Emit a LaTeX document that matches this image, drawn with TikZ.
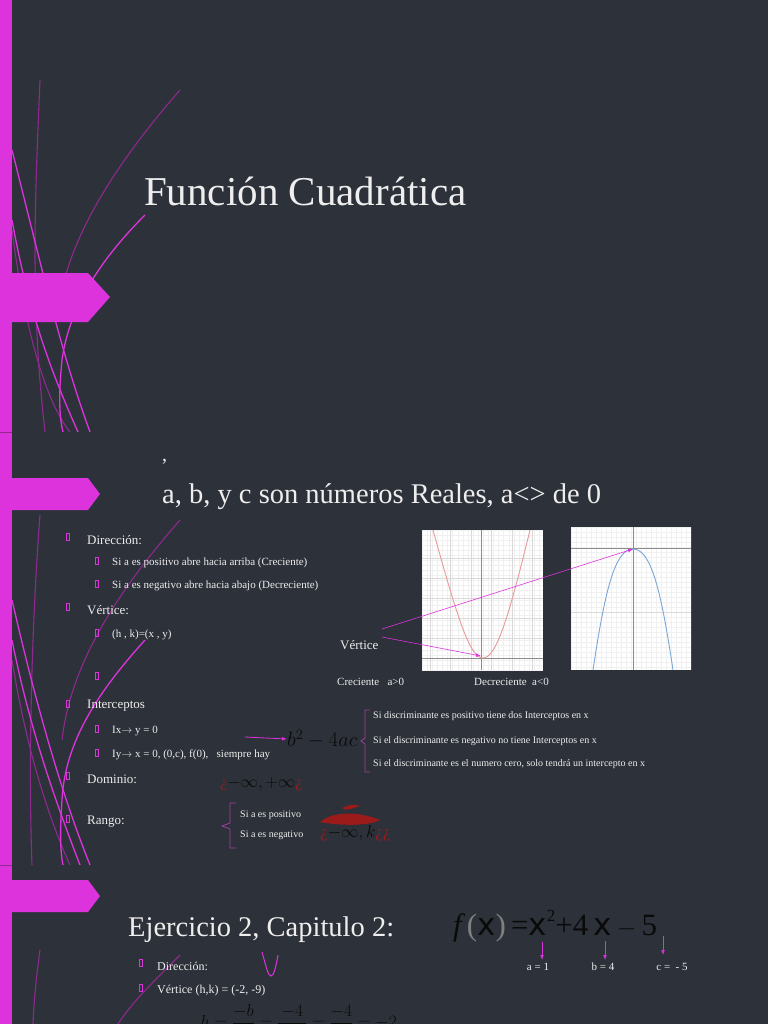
\documentclass[tikz,border=0pt]{standalone}
\usepackage{fontspec}
\setmainfont{Liberation Serif}
\newfontfamily\mathsans{DejaVu Sans}
\usepackage{amsmath}
\usetikzlibrary{arrows.meta}
\definecolor{bg}{HTML}{2D3139}
\definecolor{mag}{HTML}{DD33DD}
\definecolor{dmag}{HTML}{8E2A8E}
\definecolor{txt}{HTML}{EEEEEE}
\definecolor{dred}{HTML}{9B1B1B}
\definecolor{ink}{HTML}{0A0A0A}
\definecolor{brk}{HTML}{A040A0}
\definecolor{pinkc}{HTML}{E89A9A}
\definecolor{bluec}{HTML}{7BA7D6}
\tikzset{
  every node/.style={text=txt,inner sep=0pt},
  lbl/.style={anchor=west,font=\fontsize{13}{15}\selectfont},
  sublbl/.style={anchor=west,font=\fontsize{11}{13}\selectfont},
  tiny/.style={anchor=west,font=\fontsize{10}{12}\selectfont},
  ttl/.style={anchor=west,font=\fontsize{28.5}{30}\selectfont},
  bul/.style={draw=mag,line width=0.6pt,minimum width=3pt,minimum height=7pt},
  deco/.style={draw=mag,line width=1.3pt},
  decod/.style={draw=dmag,line width=1.1pt},
  arr/.style={draw=mag,line width=0.8pt,-{Latex[length=5pt]}},
}
\begin{document}
\begin{tikzpicture}[x=1pt,y=-1pt]
\useasboundingbox (0,0) rectangle (768,1024);
\fill[bg] (0,0) rectangle (768,1024);
% slide 1 decorations
\begin{scope}
\clip (0,0) rectangle (768,432);
\draw[decod] (40,80) .. controls (35,200) and (30,300) .. (45,432);
\draw[deco] (12,150) .. controls (40,260) and (60,350) .. (90,432);
\draw[deco] (12,220) .. controls (30,320) and (55,380) .. (78,432);
\draw[decod] (12,230) .. controls (25,330) and (45,400) .. (70,432);
\draw[decod] (180,90) .. controls (110,170) and (70,240) .. (60,300);
\draw[deco] (145,215) .. controls (110,250) and (70,300) .. (62,360) .. controls (58,400) and (60,420) .. (63,432);
\end{scope}
% slide 2 decorations
\begin{scope}
\clip (0,433) rectangle (768,865);
\draw[decod] (40,515) .. controls (32,620) and (28,760) .. (32,865);
\draw[deco] (12,600) .. controls (35,700) and (60,790) .. (90,865);
\draw[deco] (12,640) .. controls (30,730) and (55,800) .. (80,865);
\draw[decod] (12,660) .. controls (25,740) and (45,810) .. (70,865);
\draw[decod] (180,520) .. controls (110,600) and (70,670) .. (62,740);
\draw[deco] (145,640) .. controls (100,690) and (65,740) .. (62,800) .. controls (60,830) and (60,850) .. (63,865);
\end{scope}
% slide 3 decorations
\begin{scope}
\clip (0,866) rectangle (768,1024);
\draw[decod] (40,950) .. controls (36,980) and (34,1000) .. (33,1024);
\draw[decod] (180,955) .. controls (150,985) and (130,1005) .. (118,1024);
\end{scope}
% stripe and tabs
\fill[mag] (0,0) rectangle (12,1024);
\fill[mag] (0,273) -- (88,273) -- (110,297) -- (88,322) -- (0,322) -- cycle;
\fill[mag] (0,478) -- (88,478) -- (100,494) -- (88,510) -- (0,510) -- cycle;
\fill[mag] (0,880) -- (88,880) -- (100,896) -- (88,912) -- (0,912) -- cycle;
\draw[dmag,line width=0.5pt] (0,432) -- (12,432);
\draw[dmag,line width=0.5pt] (0,865) -- (12,865);
% slide 1 title
\node[ttl,font=\fontsize{41}{44}\selectfont] (t1) at (144,191) {Función Cuadrática};
% slide 2
\node[anchor=west,font=\fontsize{20}{20}\selectfont] (comma) at (161,466) {’};
\node[ttl] (t2) at (162,497) {a, b, y c son números Reales, a<> de 0};
\node[bul] (b1) at (68,537) {}; \node[lbl] (l1) at (87,540) {Dirección:};
\node[bul] (b2) at (97,561) {}; \node[sublbl] (l2) at (112,563) {Si a es positivo abre hacia arriba (Creciente)};
\node[bul] (b3) at (97,584) {}; \node[sublbl] (l3) at (112,586) {Si a es negativo abre hacia abajo (Decreciente)};
\node[bul] (b4) at (68,607) {}; \node[lbl] (l4) at (87,610) {Vértice:};
\node[bul] (b5) at (97,633) {}; \node[sublbl] (l5) at (112,635) {(h , k)=(x , y)};
\node[bul] (b6) at (97,676) {};
\node[bul] (b7) at (68,704) {}; \node[lbl] (l7) at (87,706) {Interceptos};
\node[bul] (b8) at (97,729) {}; \node[sublbl] (l8) at (112,731) {Ix$\rightarrow$ y = 0};
\node[bul] (b9) at (97,753) {}; \node[sublbl] (l9) at (112,755) {Iy$\rightarrow$ x = 0, (0,c), f(0), \ \ siempre hay};
\node[bul] (b10) at (68,776) {}; \node[lbl] (l10) at (87,779) {Dominio:};
\node[bul] (b11) at (68,819) {}; \node[lbl] (l11) at (87,822) {Rango:};
% graphs
\begin{scope}
\fill[white] (422,530) rectangle (543,670);
\clip (422,530) rectangle (543,670);
\foreach \i in {0,...,24} \draw[black!6,line width=0.3pt] (422+\i*5.1,530) -- (422+\i*5.1,670);
\foreach \i in {0,...,28} \draw[black!6,line width=0.3pt] (422,530+\i*5) -- (543,530+\i*5);
\foreach \i in {0,...,5} \draw[black!15,line width=0.4pt] (430+\i*20.5,530) -- (430+\i*20.5,670);
\foreach \i in {0,...,5} \draw[black!15,line width=0.4pt] (422,558+\i*20) -- (543,558+\i*20);
\draw[black!45,line width=0.6pt] (481,530) -- (481,670);
\draw[black!45,line width=0.6pt] (422,658) -- (543,658);
\draw[pinkc,line width=0.9pt] (433,530) .. controls (458,620) and (470,658) .. (483,658) .. controls (496,658) and (508,620) .. (530,530);
\end{scope}
\begin{scope}
\fill[white] (571,527) rectangle (691,670);
\clip (571,527) rectangle (691,670);
\foreach \i in {0,...,24} \draw[black!6,line width=0.3pt] (571+\i*5,527) -- (571+\i*5,670);
\foreach \i in {0,...,29} \draw[black!6,line width=0.3pt] (571,527+\i*5) -- (691,527+\i*5);
\draw[black!15,line width=0.4pt] (571,612) -- (691,612);
\draw[black!45,line width=0.6pt] (633,527) -- (633,670);
\draw[black!45,line width=0.6pt] (571,548) -- (691,548);
\draw[bluec,line width=0.9pt] (593,670) .. controls (605,590) and (615,549) .. (633,549) .. controls (651,549) and (661,590) .. (673,670);
\end{scope}
\coordinate (vsrc1) at (382,629);
\coordinate (vsrc2) at (382,637);
\coordinate (vtop) at (633,549);
\coordinate (vbot) at (481,656);
\draw[arr,line width=0.6pt] (vsrc1) -- (vtop);
\draw[arr,line width=0.6pt] (vsrc2) -- (vbot);
\node[lbl] (vert) at (340,645) {Vértice};
\node[sublbl] (cre) at (337,682) {Creciente \ \ a>0};
\node[sublbl] (dec) at (474,682) {Decreciente \ a<0};
% discriminant
\coordinate (da) at (245,737);
\node[anchor=west,text=ink,font=\fontsize{21}{21}\selectfont] (disc) at (287,739) {$b^2-4ac$};
\draw[arr] (da) -- (disc.west);
\draw[brk,line width=0.8pt] (370,710) -- (365,710) -- (365,738) -- (361,741) -- (365,744) -- (365,772) -- (370,772);
\node[tiny] (d1) at (373,716) {Si discriminante es positivo tiene dos Interceptos en x};
\node[tiny] (d2) at (373,741) {Si el discriminante es negativo no tiene Interceptos en x};
\node[tiny] (d3) at (373,764) {Si el discriminante es el numero cero, solo tendrá un intercepto en x};
% dominio
\node[anchor=west,font=\fontsize{16}{16}\selectfont] (dom) at (220,784) {\textcolor{dred}{¿}\textcolor{ink}{$-\infty,+\infty$}\textcolor{dred}{¿}};
% rango
\draw[brk,line width=0.8pt] (236,803) -- (230,803) -- (230,823) -- (222,826) -- (230,829) -- (230,848) -- (236,848);
\node[tiny] (r1) at (240,815) {Si a es positivo};
\node[tiny] (r2) at (240,835) {Si a es negativo};
\fill[dred] (320,822) .. controls (335,810) and (360,812) .. (380,820) .. controls (370,826) and (340,826) .. (320,822) -- cycle;
\fill[dred] (342,808) .. controls (350,804) and (356,804) .. (360,806) .. controls (352,808) and (346,812) .. (342,808) -- cycle;
\node[anchor=west,font=\fontsize{17}{17}\selectfont] (rng) at (320,833) {\textcolor{dred}{¿}\textcolor{ink}{$-\infty,k$}\textcolor{dred}{¿¿}};
% slide 3
\node[ttl] (t3) at (128,930) {Ejercicio 2, Capitulo 2:};
\node[anchor=base west,text=ink,font=\fontsize{31}{31}\selectfont] (fx) at (453,935) {{\itshape f}\,{\color{black!50}(}{\mathsans x}{\color{black!50})}\,={\mathsans x}\raisebox{0.45em}{\fontsize{17}{17}\selectfont 2}+4\,{\mathsans x}\,$-$\,5};
\node[sublbl,anchor=center] (ea) at (538,967) {a = 1};
\node[sublbl,anchor=center] (eb) at (603,967) {b = 4};
\node[sublbl,anchor=center] (ec) at (672,967) {c = \ - 5};
\coordinate (pa) at (542,942);
\coordinate (pb) at (605,941);
\coordinate (pc) at (663,936);
\coordinate (qa) at (542,960);
\coordinate (qb) at (605,960);
\coordinate (qc) at (663,955);
\draw[arr,line width=0.6pt] (pa) -- (qa);
\draw[arr,line width=0.6pt] (pb) -- (qb);
\draw[arr,line width=0.6pt] (pc) -- (qc);
\node[bul] (c1) at (141,963) {}; \node[sublbl,font=\fontsize{12}{14}\selectfont] (cl1) at (157,966) {Dirección:};
\draw[mag,line width=1pt] (262,952) .. controls (266,966) and (268,976) .. (271,976) .. controls (274,976) and (276,966) .. (278,955);
\node[bul] (c2) at (141,988) {}; \node[sublbl,font=\fontsize{12}{14}\selectfont] (cl2) at (157,991) {Vértice (h,k) = (-2, -9)};
\begin{scope}
\clip (0,866) rectangle (768,1024);
\node[anchor=north west,text=ink,font=\fontsize{17}{17}\selectfont] (hf) at (200,1004) {$h=\dfrac{-b}{2a}=\dfrac{-4}{2(1)}=\dfrac{-4}{2}=-2$};
\end{scope}
\end{tikzpicture}
\end{document}
